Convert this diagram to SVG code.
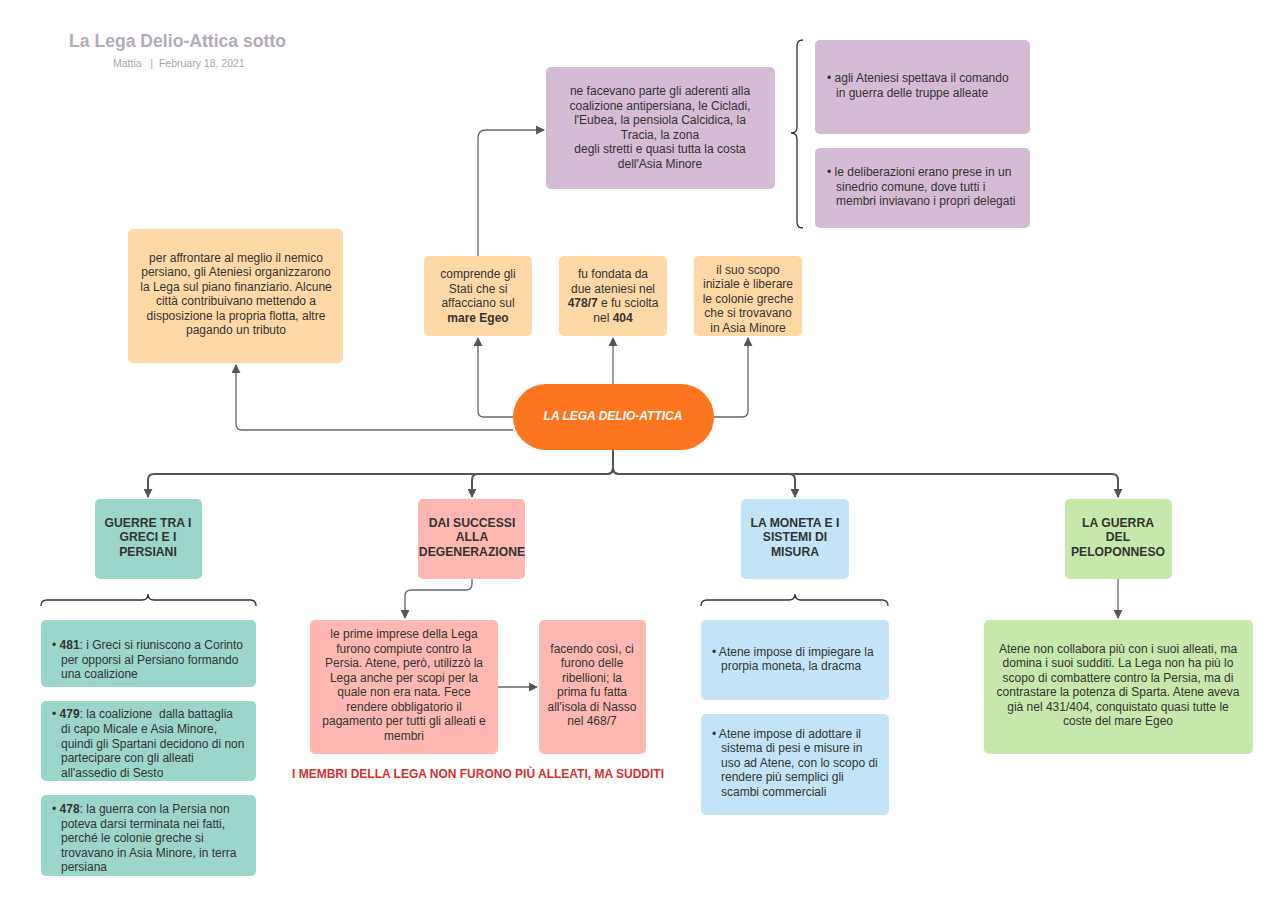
<svg xmlns="http://www.w3.org/2000/svg" width="1280" height="903" viewBox="0 0 1280 903">
<defs>
<marker id="ah" viewBox="0 0 10 10" refX="9" refY="5" markerWidth="9" markerHeight="9" markerUnits="userSpaceOnUse" orient="auto">
<path d="M0,0 L10,5 L0,10 z" fill="#555"/>
</marker>
</defs>
<style>
text{font-family:"Liberation Sans",Arial,sans-serif;font-size:12px;fill:#333}
.c{text-anchor:middle}
.h{font-weight:bold;font-size:12.2px;text-anchor:middle}
.b{font-weight:bold}
.conn{fill:none;stroke:#666;stroke-width:1.3}
.bus{fill:none;stroke:#555;stroke-width:2}
.brace{fill:none;stroke:#333;stroke-width:1.3}
.pur{fill:#d4bcd4}
.org{fill:#fed9a6}
.teal{fill:#9bd6ca}
.pink{fill:#ffb8b1}
.blue{fill:#c3e4f6}
.green{fill:#c7e8aa}
</style>
<rect width="1280" height="903" fill="#fff"/>
<g id="title">
<text x="69" y="47" style="font-size:17.6px;font-weight:bold;fill:#b3abb8">La Lega Delio-Attica sotto</text>
<text x="113" y="67" style="font-size:10.5px;fill:#aaa3b0" xml:space="preserve">Mattia   |  February 18, 2021</text>
</g>
<g id="connectors">
<path class="conn" d="M513,430 H242 Q236,430 236,424 V365" marker-end="url(#ah)"/>
<path class="conn" d="M513,417 H484 Q478,417 478,411 V338" marker-end="url(#ah)"/>
<path class="conn" d="M613,384 V338" marker-end="url(#ah)"/>
<path class="conn" d="M714,417 H742 Q748,417 748,411 V338" marker-end="url(#ah)"/>
<path class="conn" d="M478,256 V138 Q478,130 486,130 H544" marker-end="url(#ah)"/>
<path class="bus" d="M613,450 V468 Q613,474 607,474 H154 Q148,474 148,480 V497" marker-end="url(#ah)"/>
<path class="bus" d="M613,450 V468 Q613,474 607,474 H478 Q472,474 472,480 V497" marker-end="url(#ah)"/>
<path class="bus" d="M613,450 V468 Q613,474 619,474 H789 Q795,474 795,480 V497" marker-end="url(#ah)"/>
<path class="bus" d="M613,450 V468 Q613,474 619,474 H1112 Q1118,474 1118,480 V497" marker-end="url(#ah)"/>
<path class="conn" d="M472,579 V584 Q472,590 466,590 H411 Q405,590 405,596 V618" marker-end="url(#ah)"/>
<path class="conn" d="M498,687 H537" marker-end="url(#ah)"/>
<path class="conn" d="M1118,579 V618" marker-end="url(#ah)"/>
<path class="brace" d="M803,40 Q797,40 797,46 V127 Q797,133 791,133 Q797,133 797,139 V222 Q797,228 803,228"/>
<path class="brace" d="M41,606 Q41,600 47,600 H142 Q148,600 148,594 Q148,600 154,600 H250 Q256,600 256,606"/>
<path class="brace" d="M701,606 Q701,600 707,600 H789 Q795,600 795,594 Q795,600 801,600 H882 Q888,600 888,606"/>
</g>
<g id="n-center">
<rect x="513" y="384" width="201" height="66" rx="33" fill="#fe7520"/>
<text x="613" y="420" class="c" style="font-weight:bold;font-style:italic;fill:#fff">LA LEGA DELIO-ATTICA</text>
</g>
<g id="n-members">
<rect class="pur" x="546" y="67" width="229" height="122" rx="5"/>
<text class="c" x="660"><tspan x="660" y="95">ne facevano parte gli aderenti alla</tspan><tspan x="660" y="110">coalizione antipersiana, le Cicladi,</tspan><tspan x="660" y="124">l'Eubea, la pensiola Calcidica, la</tspan><tspan x="660" y="139">Tracia, la zona</tspan><tspan x="660" y="153">degli stretti e quasi tutta la costa</tspan><tspan x="660" y="168">dell'Asia Minore</tspan></text>
</g>
<g id="n-comando">
<rect class="pur" x="815" y="40" width="215" height="94" rx="5"/>
<text x="827"><tspan x="827" y="82">• agli Ateniesi spettava il comando</tspan><tspan x="836" y="97">in guerra delle truppe alleate</tspan></text>
</g>
<g id="n-sinedrio">
<rect class="pur" x="815" y="148" width="215" height="80" rx="5"/>
<text x="827"><tspan x="827" y="176">• le deliberazioni erano prese in un</tspan><tspan x="836" y="191">sinedrio comune, dove tutti i</tspan><tspan x="836" y="205">membri inviavano i propri delegati</tspan></text>
</g>
<g id="n-finanza">
<rect class="org" x="128" y="229" width="215" height="134" rx="5"/>
<text class="c" x="236"><tspan x="236" y="262">per affrontare al meglio il nemico</tspan><tspan x="236" y="276">persiano, gli Ateniesi organizzarono</tspan><tspan x="236" y="291">la Lega sul piano finanziario. Alcune</tspan><tspan x="236" y="305">città contribuivano mettendo a</tspan><tspan x="236" y="320">disposizione la propria flotta, altre</tspan><tspan x="236" y="334">pagando un tributo</tspan></text>
</g>
<g id="n-stati">
<rect class="org" x="424" y="256" width="108" height="80" rx="5"/>
<text class="c" x="478"><tspan x="478" y="278">comprende gli</tspan><tspan x="478" y="293">Stati che si</tspan><tspan x="478" y="307">affacciano sul</tspan><tspan x="478" y="322" class="b">mare Egeo</tspan></text>
</g>
<g id="n-fondata">
<rect class="org" x="559" y="256" width="108" height="80" rx="5"/>
<text class="c" x="613"><tspan x="613" y="278">fu fondata da</tspan><tspan x="613" y="293">due ateniesi nel</tspan><tspan x="613" y="307"><tspan class="b">478/7</tspan> e fu sciolta</tspan><tspan x="613" y="322">nel <tspan class="b">404</tspan></tspan></text>
</g>
<g id="n-scopo">
<rect class="org" x="694" y="256" width="108" height="80" rx="5"/>
<text class="c" x="748"><tspan x="748" y="274">il suo scopo</tspan><tspan x="748" y="288">iniziale è liberare</tspan><tspan x="748" y="303">le colonie greche</tspan><tspan x="748" y="317">che si trovavano</tspan><tspan x="748" y="332">in Asia Minore</tspan></text>
</g>
<g id="n-guerre">
<rect class="teal" x="95" y="499" width="107" height="80" rx="5"/>
<text class="h" x="148"><tspan x="148" y="527">GUERRE TRA I</tspan><tspan x="148" y="541">GRECI E I</tspan><tspan x="148" y="556">PERSIANI</tspan></text>
</g>
<g id="n-481">
<rect class="teal" x="41" y="620" width="215" height="67" rx="5"/>
<text x="52"><tspan x="52" y="649">• <tspan class="b">481</tspan>: i Greci si riuniscono a Corinto</tspan><tspan x="61" y="664">per opporsi al Persiano formando</tspan><tspan x="61" y="678">una coalizione</tspan></text>
</g>
<g id="n-479">
<rect class="teal" x="41" y="701" width="215" height="80" rx="5"/>
<text x="52" xml:space="preserve"><tspan x="52" y="718">• <tspan class="b">479</tspan>: la coalizione  dalla battaglia</tspan><tspan x="61" y="733">di capo Micale e Asia Minore,</tspan><tspan x="61" y="748">quindi gli Spartani decidono di non</tspan><tspan x="61" y="762">partecipare con gli alleati</tspan><tspan x="61" y="777">all'assedio di Sesto</tspan></text>
</g>
<g id="n-478">
<rect class="teal" x="41" y="795" width="215" height="81" rx="5"/>
<text x="52"><tspan x="52" y="813">• <tspan class="b">478</tspan>: la guerra con la Persia non</tspan><tspan x="61" y="828">poteva darsi terminata nei fatti,</tspan><tspan x="61" y="842">perché le colonie greche si</tspan><tspan x="61" y="857">trovavano in Asia Minore, in terra</tspan><tspan x="61" y="871">persiana</tspan></text>
</g>
<g id="n-successi">
<rect class="pink" x="418" y="499" width="107" height="80" rx="5"/>
<text class="h" x="472"><tspan x="472" y="527">DAI SUCCESSI</tspan><tspan x="472" y="541">ALLA</tspan><tspan x="472" y="556">DEGENERAZIONE</tspan></text>
</g>
<g id="n-imprese">
<rect class="pink" x="310" y="620" width="188" height="134" rx="5"/>
<text class="c" x="404"><tspan x="404" y="638">le prime imprese della Lega</tspan><tspan x="404" y="653">furono compiute contro la</tspan><tspan x="404" y="667">Persia. Atene, però, utilizzò la</tspan><tspan x="404" y="682">Lega anche per scopi per la</tspan><tspan x="404" y="696">quale non era nata. Fece</tspan><tspan x="404" y="711">rendere obbligatorio il</tspan><tspan x="404" y="725">pagamento per tutti gli alleati e</tspan><tspan x="404" y="740">membri</tspan></text>
</g>
<g id="n-ribellioni">
<rect class="pink" x="539" y="620" width="107" height="134" rx="5"/>
<text class="c" x="592"><tspan x="592" y="653">facendo così, ci</tspan><tspan x="592" y="667">furono delle</tspan><tspan x="592" y="682">ribellioni; la</tspan><tspan x="592" y="696">prima fu fatta</tspan><tspan x="592" y="711">all'isola di Nasso</tspan><tspan x="592" y="725">nel 468/7</tspan></text>
</g>
<g id="t-sudditi">
<text class="c" x="478" y="778" style="font-weight:bold;fill:#d3312f">I MEMBRI DELLA LEGA NON FURONO PIÙ ALLEATI, MA SUDDITI</text>
</g>
<g id="n-moneta">
<rect class="blue" x="741" y="499" width="108" height="80" rx="5"/>
<text class="h" x="795"><tspan x="795" y="527">LA MONETA E I</tspan><tspan x="795" y="541">SISTEMI DI</tspan><tspan x="795" y="556">MISURA</tspan></text>
</g>
<g id="n-dracma">
<rect class="blue" x="701" y="620" width="188" height="80" rx="5"/>
<text x="712"><tspan x="712" y="656">• Atene impose di impiegare la</tspan><tspan x="721" y="670">prorpia moneta, la dracma</tspan></text>
</g>
<g id="n-pesi">
<rect class="blue" x="701" y="714" width="188" height="101" rx="5"/>
<text x="712"><tspan x="712" y="738">• Atene impose di adottare il</tspan><tspan x="721" y="752">sistema di pesi e misure in</tspan><tspan x="721" y="767">uso ad Atene, con lo scopo di</tspan><tspan x="721" y="781">rendere più semplici gli</tspan><tspan x="721" y="796">scambi commerciali</tspan></text>
</g>
<g id="n-peloponneso">
<rect class="green" x="1065" y="499" width="107" height="80" rx="5"/>
<text class="h" x="1118"><tspan x="1118" y="527">LA GUERRA</tspan><tspan x="1118" y="541">DEL</tspan><tspan x="1118" y="556">PELOPONNESO</tspan></text>
</g>
<g id="n-sparta">
<rect class="green" x="984" y="620" width="269" height="134" rx="5"/>
<text class="c" x="1118"><tspan x="1118" y="653">Atene non collabora più con i suoi alleati, ma</tspan><tspan x="1118" y="667">domina i suoi sudditi. La Lega non ha più lo</tspan><tspan x="1118" y="682">scopo di combattere contro la Persia, ma di</tspan><tspan x="1118" y="696">contrastare la potenza di Sparta. Atene aveva</tspan><tspan x="1118" y="711">già nel 431/404, conquistato quasi tutte le</tspan><tspan x="1118" y="725">coste del mare Egeo</tspan></text>
</g>
</svg>
